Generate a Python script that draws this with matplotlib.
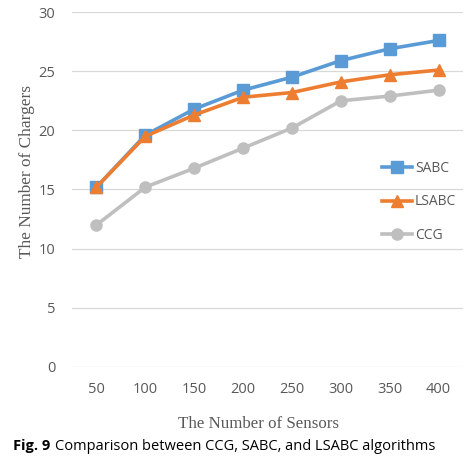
import matplotlib
matplotlib.use("Agg")
import matplotlib.pyplot as plt

sensors = ["50", "100", "150", "200", "250", "300", "350", "400"]
sabc = [15.2, 19.6, 21.8, 23.4, 24.5, 25.9, 26.9, 27.6]
lsabc = [15.2, 19.5, 21.3, 22.8, 23.2, 24.1, 24.7, 25.1]
ccg = [12.0, 15.2, 16.8, 18.5, 20.2, 22.5, 22.9, 23.4]
yticks = [0, 5, 10, 15, 20, 25, 30]

fig = plt.figure(figsize=(4.74, 4.65), dpi=100)
ax = fig.add_axes([0.152, 0.211, 0.825, 0.763])

x = list(range(len(sensors)))
ax.plot(x, sabc, color="#5B9BD5", lw=2.6, marker="s", ms=8, label="SABC", zorder=3)
ax.plot(x, lsabc, color="#ED7D31", lw=2.6, marker="^", ms=8.5, label="LSABC", zorder=4)
ax.plot(x, ccg, color="#BFBFBF", lw=2.6, marker="o", ms=8, label="CCG", zorder=2)

ax.set_xlim(-0.5, len(sensors) - 0.5)
ax.set_ylim(0, 30)
ax.set_yticks(yticks)
ax.set_yticklabels([str(v) for v in yticks])
ax.set_xticks(x)
ax.set_xticklabels(sensors)
ax.grid(axis="y", color="#D9D9D9", lw=0.9)
ax.set_axisbelow(True)
for s in ax.spines.values():
    s.set_visible(False)
ax.tick_params(length=0, labelsize=10.5, labelcolor="#595959")
ax.tick_params(axis="x", pad=11)
ax.tick_params(axis="y", pad=12)
for lab in ax.get_xticklabels() + ax.get_yticklabels():
    lab.set_family("Open Sans")

ax.set_xlabel("The Number of Sensors", family="Liberation Serif", fontsize=12.2,
              color="#595959", va="top")
ax.xaxis.set_label_coords(0.477, -0.139)
ax.set_ylabel("The Number of Chargers", family="Liberation Serif", fontsize=12.4,
              color="#595959", va="bottom")
ax.yaxis.set_label_coords(-0.095, 0.552)

leg = ax.legend(loc="center left", bbox_to_anchor=(0.76, 0.465), frameon=False,
                handlelength=2.2, labelspacing=1.35, handletextpad=0.2,
                prop={"family": "Open Sans", "size": 10})
for t in leg.get_texts():
    t.set_color("#595959")

t1 = fig.text(0.028, 0.033, "Fig. 9", fontsize=10.5, family="Open Sans", weight="bold")
fig.canvas.draw()
bb = t1.get_window_extent()
fig.text((bb.x1 + 4) / fig.bbox.width, 0.033, "Comparison between CCG, SABC, and LSABC algorithms",
         fontsize=10.5, family="Open Sans")

fig.savefig("out.png", dpi=100)
